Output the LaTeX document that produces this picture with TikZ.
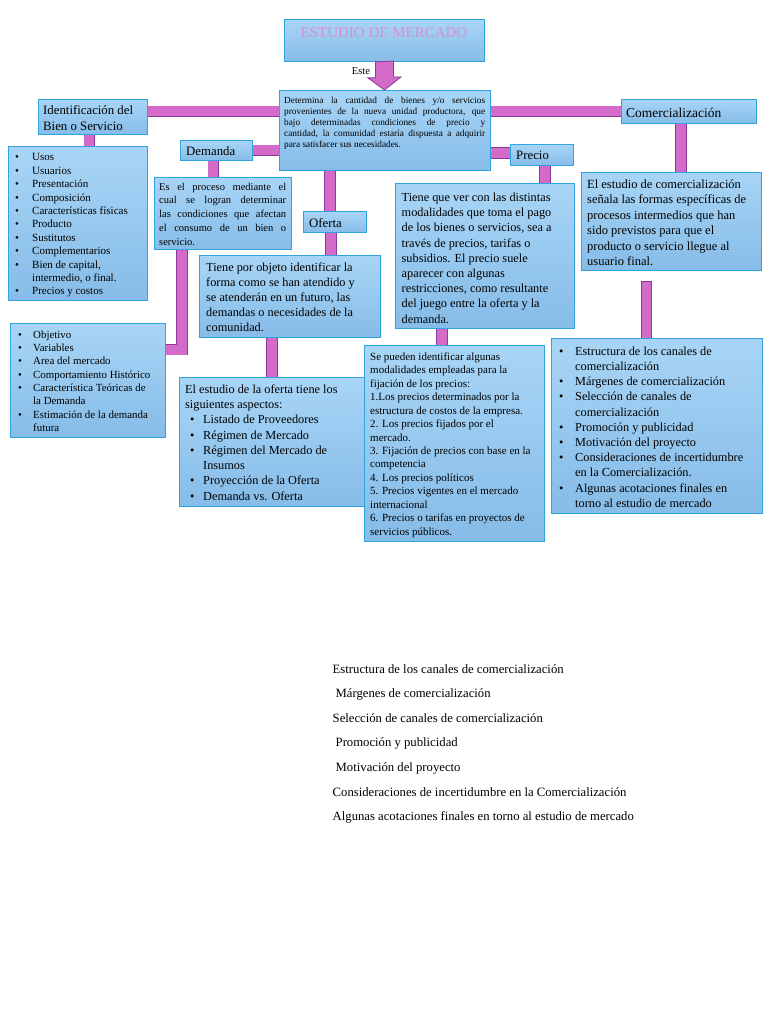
\documentclass[tikz,border=0pt]{standalone}
\usepackage{fontspec}
\setmainfont{Liberation Serif}
\definecolor{boxtop}{HTML}{A8D5F6}
\definecolor{boxbot}{HTML}{86BCE8}
\definecolor{boxedge}{HTML}{2FA4DE}
\definecolor{barfill}{HTML}{D56BC9}
\definecolor{baredge}{HTML}{8B3A9C}
\definecolor{titlepink}{HTML}{DC8CD4}
\pgfdeclarelayer{paper}
\pgfdeclarelayer{links}
\pgfsetlayers{paper,links,main}
\tikzset{
  panel/.style={rectangle, draw=boxedge, line width=0.9pt, top color=boxtop, bottom color=boxbot, inner sep=0pt, anchor=north west},
  txt/.style={inner sep=0pt, anchor=north west, align=left, text=black},
  bar/.style={draw=baredge, line width=0.8pt, double=barfill, double distance=10pt},
  barrect/.style={draw=baredge, line width=0.8pt, fill=barfill},
}
\newcommand{\bu}[1]{\makebox[#1][l]{\textbullet}}
\begin{document}
\begin{tikzpicture}[x=1pt,y=-1pt]
\begin{pgfonlayer}{paper}
\fill[white] (0,0) rectangle (768,1024);
\end{pgfonlayer}
\useasboundingbox (0,0) rectangle (768,1024);

% panels
\node[panel, minimum width=200pt, minimum height=42pt] (title) at (284,19) {};
\node[panel, minimum width=211pt, minimum height=80pt] (center) at (279,90) {};
\node[panel, minimum width=109pt, minimum height=35pt] (ident) at (38,99) {};
\node[panel, minimum width=135pt, minimum height=24pt] (comerc) at (621,99) {};
\node[panel, minimum width=139pt, minimum height=154pt] (idl) at (8,146) {};
\node[panel, minimum width=72pt, minimum height=20pt] (demanda) at (180,140) {};
\node[panel, minimum width=137pt, minimum height=72pt] (dd) at (154,177) {};
\node[panel, minimum width=155pt, minimum height=114pt] (dl) at (10,323) {};
\node[panel, minimum width=63pt, minimum height=21pt] (oferta) at (303,211) {};
\node[panel, minimum width=181pt, minimum height=82pt] (ofd) at (199,255) {};
\node[panel, minimum width=202pt, minimum height=129pt] (ofl) at (179,377) {};
\node[panel, minimum width=63pt, minimum height=21pt] (precio) at (510,144) {};
\node[panel, minimum width=179pt, minimum height=145pt] (pd) at (395,183) {};
\node[panel, minimum width=180pt, minimum height=196pt] (pl) at (364,345) {};
\node[panel, minimum width=180pt, minimum height=98pt] (cd) at (581,172) {};
\node[panel, minimum width=211pt, minimum height=175pt] (cl) at (551,338) {};

% connectors
\begin{pgfonlayer}{links}
\draw[bar] ([yshift=5.5pt]ident.east) -- ([yshift=19pt]center.west);
\draw[bar] ([yshift=19pt]center.east) -- (comerc.west);
\draw[bar] (demanda.east) -- ([yshift=-20pt]center.west);
\draw[bar] ([yshift=-22.5pt]center.east) -- ([yshift=2pt]precio.west);
\coordinate (ofTop) at ([xshift=-5pt]oferta.north);
\draw[bar] (ofTop) -- (ofTop |- center.south);
\coordinate (ofBot) at ([xshift=-4pt]oferta.south);
\draw[bar] (ofBot) -- (ofBot |- ofd.north);
\coordinate (ofdBot) at ([xshift=-18pt]ofd.south);
\draw[bar] (ofdBot) -- (ofdBot |- ofl.north);
\coordinate (idBot) at ([xshift=-3.5pt]ident.south);
\draw[bar] (idBot) -- (idBot |- idl.north);
\coordinate (deBot) at ([xshift=-3pt]demanda.south);
\draw[bar] (deBot) -- (deBot |- dd.north);
\draw[bar] ([xshift=-41pt]dd.south) |- ([yshift=-26.5pt]dl.north east);
\coordinate (prBot) at ([xshift=3pt]precio.south);
\draw[bar] (prBot) -- (prBot |- pd.north);
\coordinate (pdBot) at ([xshift=-43pt]pd.south);
\draw[bar] (pdBot) -- (pdBot |- pl.north);
\coordinate (coBot) at ([xshift=-8pt]comerc.south);
\draw[bar] (coBot) -- (coBot |- cd.north);
\coordinate (cdGapL) at ([xshift=-30pt,yshift=-10pt]cd.south);
\coordinate (cdGapR) at ([xshift=-20pt]cd.south);
\draw[barrect] (cdGapL) rectangle (cdGapR |- cl.north);
\end{pgfonlayer}

% arrow
\coordinate (ts) at (title.south);
\draw[barrect] ([xshift=-9pt]ts) -- ++(0,16) -- ++(-7.5,0) -- (ts |- center.north) -- ++(16.5,-13) -- ++(-7.5,0) -- ++(0,-16) -- cycle;
\node[inner sep=0pt, font=\fontsize{10.5}{12}\selectfont] (este) at (361,71) {Este};

% texts
\node[inner sep=0pt, text=titlepink, font=\fontsize{15}{15}\selectfont] (titleT) at (384,32.7) {ESTUDIO DE MERCADO};

\node[txt, align=justify, text width=201pt, font=\fontsize{9.3}{11}\selectfont] (centerT) at (284,97)
{\tolerance=10000 Determina la cantidad de bienes y/o servicios\linebreak provenientes de la nueva unidad productora, que\linebreak bajo determinadas condiciones de precio y\linebreak cantidad, la comunidad estaría dispuesta a adquirir\linebreak para satisfacer sus necesidades.};

\node[txt, font=\fontsize{12.8}{16}\selectfont] (identT) at (43,105) {Identificación del\\Bien o Servicio};
\node[txt, font=\fontsize{13.5}{15}\selectfont] (comercT) at (626,107.5) {Comercialización};
\node[txt, font=\fontsize{12.8}{15}\selectfont] (demandaT) at (186,146.5) {Demanda};
\node[txt, font=\fontsize{12.8}{15}\selectfont] (ofertaT) at (309,218.5) {Oferta};
\node[txt, font=\fontsize{12.8}{15}\selectfont] (precioT) at (516,151) {Precio};

\node[txt, font=\fontsize{11}{13.4}\selectfont] (idlT) at (15,153.5)
{\bu{17pt}Usos\\ \bu{17pt}Usuarios\\ \bu{17pt}Presentación\\ \bu{17pt}Composición\\ \bu{17pt}Características físicas\\ \bu{17pt}Producto\\ \bu{17pt}Sustitutos\\ \bu{17pt}Complementarios\\ \bu{17pt}Bien de capital,\\ \hspace*{17pt}intermedio, o final.\\ \bu{17pt}Precios y costos};

\node[txt, align=justify, text width=127pt, font=\fontsize{10.5}{13.7}\selectfont] (ddT) at (159,182.8)
{\tolerance=10000 Es el proceso mediante el\linebreak cual se logran determinar\linebreak las condiciones que afectan\linebreak el consumo de un bien o\linebreak servicio.};

\node[txt, font=\fontsize{10.9}{13.3}\selectfont] (dlT) at (18,330.5)
{\bu{15pt}Objetivo\\ \bu{15pt}Variables\\ \bu{15pt}Area del mercado\\ \bu{15pt}Comportamiento Histórico\\ \bu{15pt}Característica Teóricas de\\ \hspace*{15pt}la Demanda\\ \bu{15pt}Estimación de la demanda\\ \hspace*{15pt}futura};

\node[txt, font=\fontsize{12.3}{15}\selectfont] (ofdT) at (206,262.8)
{Tiene por objeto identificar la\\forma como se han atendido y\\se atenderán en un futuro, las\\demandas o necesidades de la\\comunidad.};

\node[txt, font=\fontsize{12.3}{15.24}\selectfont] (oflT) at (185,384.5)
{El estudio de la oferta tiene los\\siguientes aspectos:\\ \hspace*{5pt}\bu{13pt}Listado de Proveedores\\ \hspace*{5pt}\bu{13pt}Régimen de Mercado\\ \hspace*{5pt}\bu{13pt}Régimen del Mercado de\\ \hspace*{18pt}Insumos\\ \hspace*{5pt}\bu{13pt}Proyección de la Oferta\\ \hspace*{5pt}\bu{13pt}Demanda vs. Oferta};

\node[txt, font=\fontsize{12.3}{15.2}\selectfont] (pdT) at (401.5,192.8)
{Tiene que ver con las distintas\\modalidades que toma el pago\\de los bienes o servicios, sea a\\través de precios, tarifas o\\subsidios. El precio suele\\aparecer con algunas\\restricciones, como resultante\\del juego entre la oferta y la\\demanda.};

\node[txt, font=\fontsize{11}{13.44}\selectfont] (plT) at (370,352.5)
{Se pueden identificar algunas\\modalidades empleadas para la\\fijación de los precios:\\1.Los precios determinados por la\\estructura de costos de la empresa.\\2. Los precios fijados por el\\mercado.\\3. Fijación de precios con base en la\\competencia\\4. Los precios políticos\\5. Precios vigentes en el mercado\\internacional\\6. Precios o tarifas en proyectos de\\servicios públicos.};

\node[txt, font=\fontsize{12.5}{15.5}\selectfont] (cdT) at (587,179.4)
{El estudio de comercialización\\señala las formas específicas de\\procesos intermedios que han\\sido previstos para que el\\producto o servicio llegue al\\usuario final.};

\node[txt, font=\fontsize{12.3}{15.2}\selectfont] (clT) at (559,346.5)
{\bu{16pt}Estructura de los canales de\\ \hspace*{16pt}comercialización\\ \bu{16pt}Márgenes de comercialización\\ \bu{16pt}Selección de canales de\\ \hspace*{16pt}comercialización\\ \bu{16pt}Promoción y publicidad\\ \bu{16pt}Motivación del proyecto\\ \bu{16pt}Consideraciones de incertidumbre\\ \hspace*{16pt}en la Comercialización.\\ \bu{16pt}Algunas acotaciones finales en\\ \hspace*{16pt}torno al estudio de mercado};

\node[txt, font=\fontsize{12.7}{24.6}\selectfont] (bottomT) at (332.5,664)
{Estructura de los canales de comercialización\\ \hspace*{3pt}Márgenes de comercialización\\Selección de canales de comercialización\\ \hspace*{3pt}Promoción y publicidad\\ \hspace*{3pt}Motivación del proyecto\\Consideraciones de incertidumbre en la Comercialización\\Algunas acotaciones finales en torno al estudio de mercado};
\end{tikzpicture}
\end{document}
